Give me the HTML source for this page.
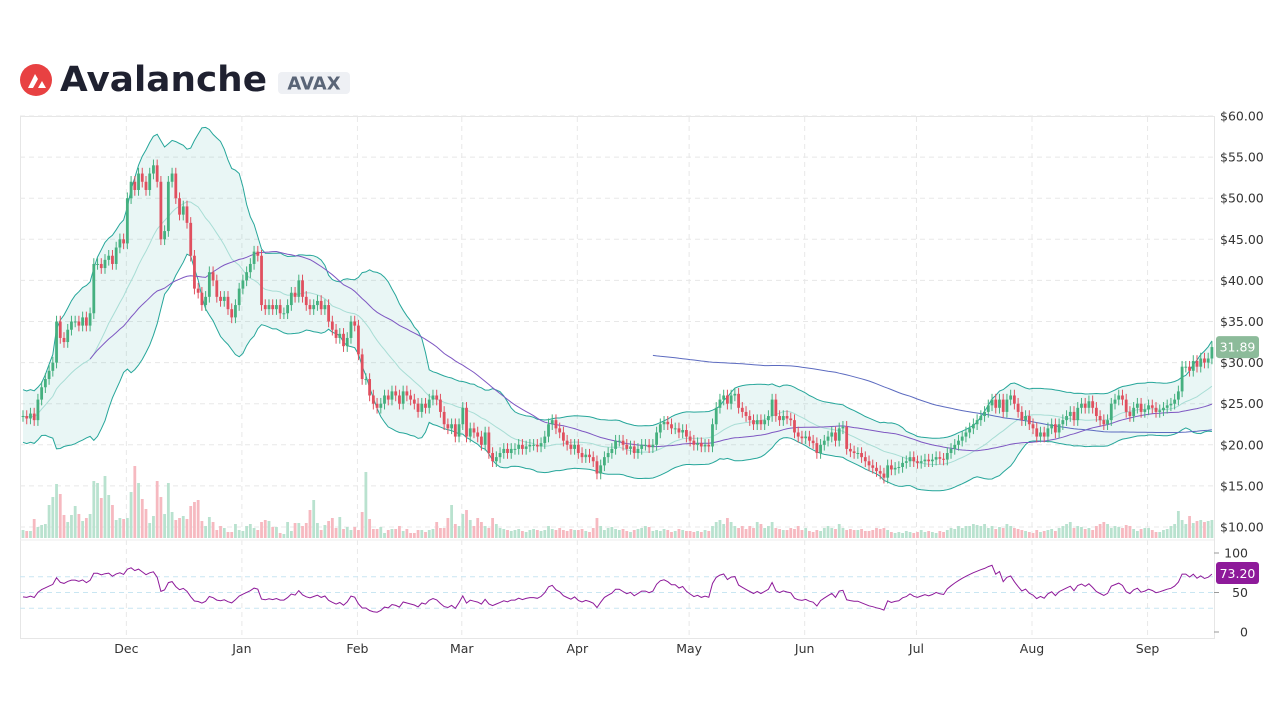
<!DOCTYPE html>
<html><head><meta charset="utf-8">
<style>
body{margin:0;background:#fff;width:1280px;height:720px;overflow:hidden;font-family:"Liberation Sans","DejaVu Sans",sans-serif;}
svg text{font-family:"DejaVu Sans","Liberation Sans",sans-serif;}
</style></head>
<body>
<svg id="chart" width="1280" height="720" viewBox="0 0 1280 720">
  <g>
    <circle cx="36" cy="80" r="16" fill="#e84142"/>
    <path d="M28 88 L35 74 L38 79 L33 88 Z M38 88 L42 81 L46 88 Z" fill="#fff"/>
    <text x="60" y="91" font-size="35" font-weight="bold" fill="#1f2130" textLength="207" lengthAdjust="spacingAndGlyphs">Avalanche</text>
    <rect x="278" y="72" width="72" height="22" rx="4" fill="#eef0f4"/>
    <text x="314" y="89.5" font-size="18" font-weight="bold" fill="#5a6577" text-anchor="middle">AVAX</text>
  </g>
  <rect x="20.5" y="116.5" width="1194" height="522" fill="none" stroke="#e6e6e6"/>
  <g id="grid"></g>
  <g id="vol"></g>
  <g id="bands"></g>
  <g id="candles"></g>
  <g id="rsi"></g>
  <g id="axes"></g>
</svg>
<script>
const closes=[23.5,23.2,23.8,23,25.5,27,28,29,30,35,
33,32.5,34,35,35,34.5,35.5,34.5,36,42,
42,41.5,42.5,43,42,44,45,44.5,50,52,
51,53,52,51,53,54,52,45,46,52,
53,50,48,49,47,43,39,38.5,37,38,
41,40,38,37.5,38,36.5,35.5,37,39,40,
41,42,43.5,43,37,36.5,37,36.5,37,36,
36,37,38.5,38,40,38,37,36.5,37,37.5,
36.5,37,35,34,33,33.5,32,33,35,34.5,
31,28,28,26,25,24.5,25,26,25.5,26.5,
26,25,26.5,26,25.5,25,24,25,24.5,25.5,
26,25.5,24,22.5,22,22.5,21,22.5,24.5,21,
22,21.5,21,20,21.5,19,18,18.5,19,19.5,
19,19.5,19.5,20,19.5,19.8,20,20,19.8,20.2,
21,22.5,23,22,21.5,20.5,20,19.5,20,19,
18.5,18.8,18.5,18,16.5,17.5,18.5,19,19.5,20.5,
20.5,20,19.5,19.8,19,19.5,20,20,19.7,20,
21.5,22.5,22.8,22.5,22,22,21.5,21.8,21,20.5,
20,20.2,19.8,20,19.8,22.5,24.5,25.5,26,25,
26,26.2,24.5,24,23.5,23,22.5,23,22.5,23,
23.5,25.5,23.5,23,23.5,23.2,23,21.5,21,20.8,
21,20.5,20.2,19,20,20.5,21,21.5,20.5,22,
22.2,19.5,19.2,19,19,18.5,18,17.5,17.2,16.8,
16.5,16,17.5,17,17.2,17.3,17.8,18,18.5,18,
17.8,18,18.2,18,18.2,18.5,18.3,18.2,19,19.5,
20,20.5,21,21.5,22,22.5,23,23.5,24,24.8,
25.5,24.5,25.5,24,25.5,26,25,24,23,23.5,
22.5,22,21,21.5,21,22,22.5,21.5,22.5,23,
23.5,24,23,24.5,25,24.5,25.3,24.5,23.5,23,
22.5,23,25,25.5,26,25.5,24,23.5,24.5,25,
24,24.3,24.8,24.5,24,24.2,24.5,24.8,25,25.5,
26.5,29.5,29.5,29,30.2,29.5,30.5,30,30.5,31.89];
const volumes=[8,7,7,19,11,13,14,33,41,54,44,23,16,23,32,24,17,20,24,57,55,40,62,43,33,18,20,19,20,46,72,55,39,29,15,22,57,41,24,55,26,18,20,22,19,32,36,38,17,12,21,16,8,12,10,6,6,14,8,7,12,14,10,8,16,18,17,11,11,5,4,16,7,15,15,12,15,28,38,15,8,13,17,20,10,21,9,11,8,11,8,26,66,19,9,9,11,5,8,9,9,12,7,9,5,5,8,
8,6,8,9,16,10,10,20,33,14,12,24,28,
18,12,20,16,12,10,20,14,10,9,8,7,8,9,7,6,8,9,8,7,
8,12,9,8,10,8,7,9,8,8,9,7,6,10,20,12,8,10,11,9,
8,9,7,6,8,9,10,12,11,7,8,7,9,8,6,7,9,8,7,7,
6,7,6,8,7,12,16,18,14,20,16,12,10,12,9,12,10,16,14,10,
12,16,10,9,8,8,10,9,12,8,10,7,6,8,7,10,12,10,9,14,
10,8,9,8,8,9,7,7,8,10,9,10,8,6,5,6,5,7,6,5,
6,8,6,7,6,5,7,6,8,10,9,12,10,12,12,14,13,12,14,10,
12,9,11,10,14,12,10,9,8,7,6,5,8,6,7,8,9,7,10,12,
14,16,10,12,11,9,10,8,12,14,16,14,10,12,11,10,13,12,9,7,
9,10,10,8,6,6,8,9,12,14,27,18,14,22,15,17,18,16,17,18];
const monthLabels=["Dec","Jan","Feb","Mar","Apr","May","Jun","Jul","Aug","Sep"];
const monthIndex=[28,59,90,118,149,179,210,240,271,302];
const priceTicks=[60,55,50,45,40,35,30,25,20,15,10];
const rsiTicks=[100,50,0];
const rsiGuides=[70,50,30];

const NS="http://www.w3.org/2000/svg";
function mk(tag,attrs,parent){const e=document.createElementNS(NS,tag);for(const k in attrs)e.setAttribute(k,attrs[k]);parent.appendChild(e);return e;}
const X0=23,DX=3.727;
const xs=i=>X0+i*DX;
const yP=v=>116+(60-v)*8.22;
const yV=v=>538-v;
const yR=v=>632-v*0.79;
const G=document.getElementById('grid'),V=document.getElementById('vol'),B=document.getElementById('bands'),C=document.getElementById('candles'),R=document.getElementById('rsi'),A=document.getElementById('axes');

priceTicks.forEach(t=>{
  const l=mk('line',{x1:20,x2:1214,y1:yP(t),y2:yP(t),stroke:'#e8e8e8','stroke-dasharray':'5,4'},G);
  
  
  const tx=mk('text',{x:1220,y:yP(t)+4.5,'font-size':12.5,fill:'#333'},A);
  tx.textContent='$'+t.toFixed(2);
  
  
});
monthIndex.forEach((mi,k)=>{
  const x=xs(mi)-1;
  const l=mk('line',{x1:x,x2:x,y1:117,y2:638,stroke:'#e8e8e8','stroke-dasharray':'5,4'},G);
  
  
  const tx=mk('text',{x:x,y:653,'font-size':12.5,fill:'#333','text-anchor':'middle'},A);
  tx.textContent=monthLabels[k];
  
  
});
rsiGuides.forEach(g=>{
  const l=mk('line',{x1:20,x2:1214,y1:yR(g),y2:yR(g),stroke:'#c9e6f2','stroke-dasharray':'5,4'},G);
  
  
});
rsiTicks.forEach(t=>{
  mk('line',{x1:1214,x2:1219,y1:yR(t),y2:yR(t),stroke:'#999'},A);
  const tx=mk('text',{x:1248,y:yR(t)+4.5,'font-size':12.5,fill:'#333','text-anchor':'end'},A);
  tx.textContent=t;
  
  
});
mk('line',{x1:20,x2:1214,y1:540,y2:540,stroke:'#eee'},A);

const opens=closes.map((c,i)=>i?closes[i-1]:c);
volumes.forEach((v,i)=>{
  const up=closes[i]>=opens[i];
  const r=mk('rect',{x:xs(i)-1.4,y:yV(v),width:2.8,height:v,fill:up?'#b9e2cf':'#f6b9c0'},V);
  
  
});
function sma(arr,n,i){const s=Math.max(0,i-n+1);let t=0;for(let k=s;k<=i;k++)t+=arr[k];return t/(i-s+1);}
function sd(arr,n,i){const m=sma(arr,n,i);const s=Math.max(0,i-n+1);let t=0;for(let k=s;k<=i;k++)t+=(arr[k]-m)**2;return Math.sqrt(t/(i-s+1));}
const mid=closes.map((c,i)=>sma(closes,20,i));
const up=closes.map((c,i)=>mid[i]+2*Math.max(sd(closes,20,i),1.6));
const lo=closes.map((c,i)=>mid[i]-2*Math.max(sd(closes,20,i),1.6));
let d='M'+up.map((v,i)=>xs(i).toFixed(1)+','+yP(v).toFixed(1)).join('L');
d+='L'+lo.map((v,i)=>[i,v]).reverse().map(([i,v])=>xs(i).toFixed(1)+','+yP(v).toFixed(1)).join('L')+'Z';
let p=mk('path',{d:d,fill:'rgba(38,166,154,0.1)',stroke:'none'},B);


function line(arr,start,color,w,name){
  const dd='M'+arr.slice(start).map((v,j)=>xs(j+start).toFixed(1)+','+yP(v).toFixed(1)).join('L');
  const e=mk('path',{d:dd,fill:'none',stroke:color,'stroke-width':w},B);
  
  
}
line(up,0,'#26a69a',1,'bollinger-upper');
line(lo,0,'#26a69a',1,'bollinger-lower');
line(mid,0,'#a8ddd5',1,'bollinger-middle');
line(closes.map((c,i)=>sma(closes,50,i)),18,'#7e57c2',1,'sma-50');
line(closes.map((c,i)=>sma(closes,200,i)),169,'#5c6bc0',1,'sma-200');
closes.forEach((c,i)=>{
  const o=opens[i],isUp=c>=o,col=isUp?'#45b07f':'#e0505f';
  const hi=Math.max(o,c)+0.7,lw=Math.min(o,c)-0.7;
  const x=xs(i);
  const w=mk('line',{x1:x,x2:x,y1:yP(hi),y2:yP(lw),stroke:col,'stroke-width':1},C);
  
  
  const top=yP(Math.max(o,c)),h=Math.max(1,yP(Math.min(o,c))-top);
  const r=mk('rect',{x:x-1.4,y:top,width:2.8,height:h,fill:col},C);
  
  
});
// RSI (Wilder, neutral seed)
const rsi=[];let ag=0.8,al=1.0;
closes.forEach((c,i)=>{
  const ch=i?c-closes[i-1]:0,g=Math.max(ch,0),l=Math.max(-ch,0);
  ag=(ag*13+g)/14;al=(al*13+l)/14;
  rsi.push(100-100/(1+ag/al));
});
const rp=mk('path',{d:'M'+rsi.map((v,i)=>xs(i).toFixed(1)+','+yR(v).toFixed(1)).join('L'),fill:'none',stroke:'#8e1a9a','stroke-width':1},R);


const last=closes[closes.length-1];
const lb=mk('rect',{x:1216,y:yP(last)-11,width:43,height:22,rx:3,fill:'#8cbb9a'},A);


const lt=mk('text',{x:1237.5,y:yP(last)+4.5,'font-size':12.5,fill:'#fff','text-anchor':'middle'},A);
lt.textContent=last.toFixed(2);


const rb=mk('rect',{x:1216,y:562,width:43,height:22,rx:3,fill:'#8e1a9a'},A);


const rt=mk('text',{x:1237.5,y:578,'font-size':12.5,fill:'#fff','text-anchor':'middle'},A);
rt.textContent='73.20';


</script>
</body></html>
